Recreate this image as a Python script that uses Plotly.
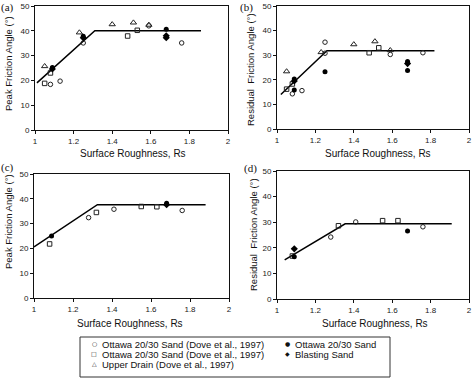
import plotly.graph_objects as go

W, H = 474, 379

# ---------------- data ----------------
x_ticks = [1, 1.2, 1.4, 1.6, 1.8, 2]
x_tick_labels = ["1", "1.2", "1.4", "1.6", "1.8", "2"]
y_ticks = [0, 10, 20, 30, 40, 50]
y_tick_labels = ["0", "10", "20", "30", "40", "50"]

# (a) peak friction angle, Dove et al. data + this study
a_line_x = [1.01, 1.31, 1.86]
a_line_y = [19.0, 40.0, 40.0]
a_circ_x = [1.08, 1.13, 1.25, 1.59, 1.76]
a_circ_y = [18.4, 19.7, 35.1, 42.0, 35.1]
a_sq_x = [1.05, 1.08, 1.48, 1.53]
a_sq_y = [18.8, 23.0, 37.9, 40.2]
a_tri_x = [1.05, 1.23, 1.40, 1.51, 1.59]
a_tri_y = [25.7, 39.3, 42.6, 43.3, 42.4]
a_fc_x = [1.09, 1.25, 1.68]
a_fc_y = [25.2, 37.8, 40.6]
a_dia_x = [1.09, 1.25, 1.68, 1.68]
a_dia_y = [24.6, 37.2, 38.0, 37.2]

# (b) residual friction angle
b_line_x = [1.02, 1.26, 1.82]
b_line_y = [14.0, 31.8, 31.8]
b_circ_x = [1.08, 1.13, 1.25, 1.25, 1.59, 1.76]
b_circ_y = [14.3, 15.6, 35.3, 30.8, 30.3, 31.0]
b_sq_x = [1.05, 1.08, 1.48, 1.53]
b_sq_y = [16.2, 18.3, 31.0, 33.0]
b_tri_x = [1.05, 1.23, 1.40, 1.51, 1.59]
b_tri_y = [23.4, 31.2, 34.4, 35.6, 32.0]
b_fc_x = [1.09, 1.09, 1.25, 1.68, 1.68]
b_fc_y = [20.3, 15.9, 23.3, 27.4, 23.8]
b_dia_x = [1.09, 1.68]
b_dia_y = [19.5, 26.6]

# (c) peak friction angle, this study
c_line_x = [1.0, 1.325, 1.88]
c_line_y = [20.6, 37.6, 37.6]
c_circ_x = [1.28, 1.41, 1.76]
c_circ_y = [32.4, 35.8, 35.3]
c_sq_x = [1.08, 1.32, 1.55, 1.63]
c_sq_y = [21.8, 34.5, 36.9, 36.8]
c_fc_x = [1.09, 1.68]
c_fc_y = [25.0, 38.2]
c_dia_x = [1.68]
c_dia_y = [37.6]

# (d) residual friction angle, this study
d_line_x = [1.04, 1.355, 1.91]
d_line_y = [15.3, 29.4, 29.4]
d_circ_x = [1.28, 1.41, 1.76]
d_circ_y = [24.2, 30.1, 28.2]
d_sq_x = [1.08, 1.32, 1.55, 1.63]
d_sq_y = [16.8, 28.6, 30.6, 30.6]
d_fc_x = [1.09, 1.68]
d_fc_y = [16.5, 26.6]
d_dia_x = [1.09]
d_dia_y = [19.6]

legend_labels = [
    "Ottawa 20/30 Sand (Dove et al., 1997)",
    "Ottawa 20/30 Sand (Dove et al., 1997)",
    "Upper Drain (Dove et al., 1997)",
    "Ottawa 20/30 Sand",
    "Blasting Sand",
]
legend_glyphs = ["○", "□", "△", "●", "◆"]

panel_letters = ["(a)", "(b)", "(c)", "(d)"]
y_titles = ["Peak Friction Angle (°)", "Residual  Friction Angle (°)",
            "Peak Friction Angle (°)", "Residual  Friction Angle (°)"]
x_title = "Surface Roughness, Rs"

# ---------------- layout helpers ----------------
def px(x):
    return x / W

def py(y):
    return 1 - y / H

FONT = "Liberation Sans, Arial, sans-serif"

# plot-area pixel boxes: (left, right, top, bottom)
boxes = [
    (35, 228, 6, 130),
    (277, 469, 6, 129),
    (34, 229, 174, 298),
    (277, 469, 171, 299),
]

fig = go.Figure()

panels = [
    (a_line_x, a_line_y, a_circ_x, a_circ_y, a_sq_x, a_sq_y, a_tri_x, a_tri_y, a_fc_x, a_fc_y, a_dia_x, a_dia_y),
    (b_line_x, b_line_y, b_circ_x, b_circ_y, b_sq_x, b_sq_y, b_tri_x, b_tri_y, b_fc_x, b_fc_y, b_dia_x, b_dia_y),
    (c_line_x, c_line_y, c_circ_x, c_circ_y, c_sq_x, c_sq_y, [], [], c_fc_x, c_fc_y, c_dia_x, c_dia_y),
    (d_line_x, d_line_y, d_circ_x, d_circ_y, d_sq_x, d_sq_y, [], [], d_fc_x, d_fc_y, d_dia_x, d_dia_y),
]

for i, p in enumerate(panels):
    xa = "x" if i == 0 else f"x{i+1}"
    ya = "y" if i == 0 else f"y{i+1}"
    lx, ly, cx, cy, sx, sy, tx, ty, fx, fy, dx, dy = p
    fig.add_trace(go.Scatter(x=lx, y=ly, mode="lines", line=dict(color="black", width=1.5),
                             xaxis=xa, yaxis=ya, showlegend=False))
    fig.add_trace(go.Scatter(x=cx, y=cy, mode="markers", xaxis=xa, yaxis=ya, showlegend=False,
                             marker=dict(symbol="circle-open", size=4.5, color="#222", line=dict(width=1))))
    fig.add_trace(go.Scatter(x=sx, y=sy, mode="markers", xaxis=xa, yaxis=ya, showlegend=False,
                             marker=dict(symbol="square-open", size=4.5, color="#222", line=dict(width=1))))
    if tx:
        fig.add_trace(go.Scatter(x=tx, y=ty, mode="markers", xaxis=xa, yaxis=ya, showlegend=False,
                                 marker=dict(symbol="triangle-up-open", size=5.5, color="#222", line=dict(width=1))))
    fig.add_trace(go.Scatter(x=fx, y=fy, mode="markers", xaxis=xa, yaxis=ya, showlegend=False,
                             marker=dict(symbol="circle", size=5, color="black")))
    fig.add_trace(go.Scatter(x=dx, y=dy, mode="markers", xaxis=xa, yaxis=ya, showlegend=False,
                             marker=dict(symbol="diamond", size=5.5, color="black")))

axis_common = dict(
    showline=True, linecolor="#111", linewidth=1, mirror=True,
    ticks="outside", ticklen=3, tickwidth=1, tickcolor="#111",
    showgrid=False, zeroline=False, automargin=False,
    tickfont=dict(family=FONT, size=8, color="#222"),
)

layout_axes = {}
for i, (l, r, t, b) in enumerate(boxes):
    sfx = "" if i == 0 else str(i + 1)
    layout_axes[f"xaxis{sfx}"] = dict(
        axis_common, domain=[px(l), px(r)], range=[1, 2],
        tickvals=x_ticks, ticktext=x_tick_labels,
        anchor="y" + sfx,
    )
    layout_axes[f"yaxis{sfx}"] = dict(
        axis_common, domain=[py(b), py(t)], range=[0, 50],
        tickvals=y_ticks, ticktext=y_tick_labels,
        anchor="x" + sfx,
    )

annotations = []
# x titles
for (cx_, cy_) in [(133, 154), (378, 153), (130, 323), (375, 323)]:
    annotations.append(dict(text=x_title, x=px(cx_), y=py(cy_), xref="paper", yref="paper",
                            showarrow=False, xanchor="center", yanchor="middle",
                            font=dict(family=FONT, size=10, color="#111")))
# y titles
for txt, (cx_, cy_) in zip(y_titles, [(9, 64), (251, 70), (8, 222), (253, 235)]):
    annotations.append(dict(text=txt, x=px(cx_), y=py(cy_), xref="paper", yref="paper",
                            showarrow=False, xanchor="center", yanchor="middle", textangle=-90,
                            font=dict(family=FONT, size=9.5, color="#111")))
# panel letters
for txt, (cx_, cy_) in zip(panel_letters, [(8, 7), (247, 7), (7, 167), (250, 168)]):
    annotations.append(dict(text=txt, x=px(cx_), y=py(cy_), xref="paper", yref="paper",
                            showarrow=False, xanchor="center", yanchor="middle",
                            font=dict(family="Liberation Serif, Times New Roman, serif", size=11, color="#111")))
# legend
leg_pos = [(94, 344), (94, 354), (94, 364), (287, 344), (287, 354)]
for glyph, label, (gx, gy) in zip(legend_glyphs, legend_labels, leg_pos):
    annotations.append(dict(text=glyph, x=px(gx), y=py(gy - 1), xref="paper", yref="paper",
                            showarrow=False, xanchor="center", yanchor="middle",
                            font=dict(family="DejaVu Sans", size=6, color="#111")))
    annotations.append(dict(text=label, x=px(gx + 6), y=py(gy), xref="paper", yref="paper",
                            showarrow=False, xanchor="left", yanchor="middle",
                            font=dict(family=FONT, size=9.5, color="#111")))

shapes = [dict(type="rect", xref="paper", yref="paper",
               x0=px(80), x1=px(390), y0=py(377), y1=py(337),
               line=dict(color="#333", width=1), fillcolor="rgba(0,0,0,0)")]

fig.update_layout(
    width=W, height=H, margin=dict(l=0, r=0, t=0, b=0),
    paper_bgcolor="white", plot_bgcolor="white",
    showlegend=False, annotations=annotations, shapes=shapes,
    **layout_axes,
)

fig.write_html("out.html",
               config={"displayModeBar": False, "staticPlot": True},
               post_script="document.body.style.margin='0';document.body.style.overflow='hidden';")
